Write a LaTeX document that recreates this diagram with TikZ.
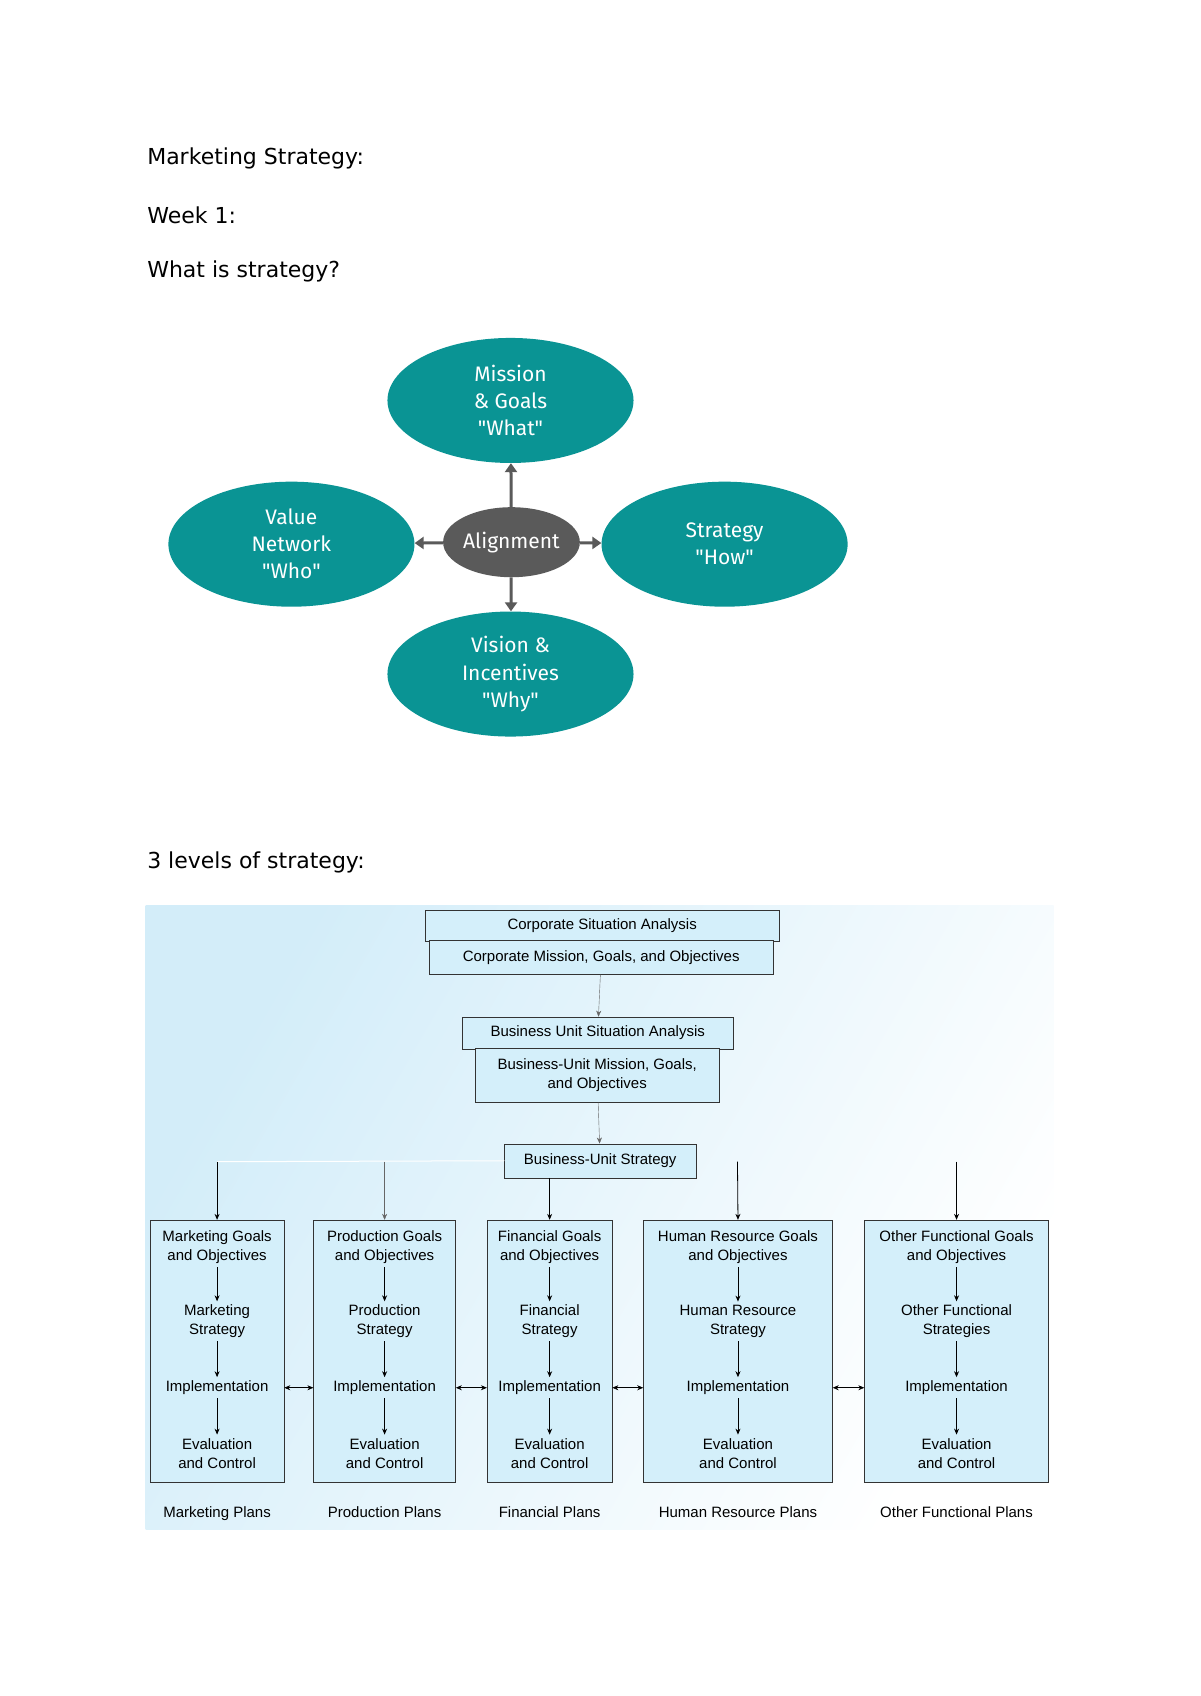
\documentclass[tikz,border=0pt]{standalone}
\usepackage{fontspec}
\setmainfont{DejaVu Sans}
\newfontfamily\ellf{Fira Sans}
\newfontfamily\boxf{Liberation Sans}
\usetikzlibrary{shapes.geometric,arrows.meta}
\definecolor{teal1}{HTML}{0A9494}
\definecolor{gray1}{HTML}{5A5A5A}
\definecolor{bfill}{HTML}{D4EFFA}
\definecolor{bgl}{HTML}{D3EDF9}
\begin{document}
\begin{tikzpicture}[x=0.991pt,y=-0.991pt,
  ell/.style={ellipse,fill=teal1,text=white,minimum width=246pt,minimum height=125pt,inner sep=0pt,align=center,font=\ellf\fontsize{21}{27}\selectfont},
  garr/.style={draw=gray1,line width=3pt,-{Triangle[length=9pt,width=12pt]}},
  bx/.style={draw=black!80,fill=bfill,font=\boxf\fontsize{15}{19}\selectfont,align=center,inner sep=0pt},
  it/.style={font=\boxf\fontsize{15}{19}\selectfont,align=center},
  ar/.style={-{Stealth[length=6pt,width=5pt]},line width=0.8pt},
  tar/.style={-{Stealth[length=6pt,width=5pt]},line width=0.4pt,draw=black!60},
  dar/.style={{Stealth[length=6pt,width=5pt]}-{Stealth[length=6pt,width=5pt]},line width=0.6pt},
  ttl/.style={anchor=west,font=\fontsize{22}{26}\selectfont}]
\useasboundingbox (0,0) rectangle (1211,1711);
\fill[white] (0,0) rectangle (1211,1711);
\node[ttl] (t1) at (145,160) {Marketing Strategy:};
\node[ttl] (t2) at (145,217) {Week 1:};
\node[ttl] (t3) at (145,274) {What is strategy?};
\node[ttl] (t4) at (145,870) {3 levels of strategy:};
% ellipses
\node[ell] (mis) at (515,404) {Mission\\\& Goals\\"What"};
\node[ell] (val) at (294,549) {Value\\Network\\"Who"};
\node[ell] (str) at (731,549) {Strategy\\"How"};
\node[ell] (vis) at (515,680) {Vision \&\\Incentives\\"Why"};
\node[ellipse,fill=gray1,text=white,minimum width=136pt,minimum height=70pt,inner sep=0pt,font=\ellf\fontsize{21}{26}\selectfont] (ali) at (516,547) {Alignment};
\draw[garr] (ali) -- (mis);
\draw[garr] (ali) -- (vis);
\draw[garr] (ali) -- (val);
\draw[garr] (ali) -- (str);
% background
\shade[left color=bgl,right color=white,shading angle=60] (147,913) rectangle (1063,1543);
% top boxes
\node[bx,minimum width=353pt,minimum height=31pt] (cs) at (607.5,933.5) {Corporate Situation Analysis};
\node[bx,minimum width=343pt,minimum height=34pt] (cm) at (606.5,966) {Corporate Mission, Goals, and Objectives};
\node[bx,minimum width=270pt,minimum height=32pt] (bs) at (603,1042) {Business Unit Situation Analysis};
\node[bx,minimum width=243pt,minimum height=54pt] (bm) at (602.5,1085) {Business-Unit Mission, Goals,\\and Objectives};
\node[bx,minimum width=191pt,minimum height=34pt] (bst) at (605.5,1171) {Business-Unit Strategy};
\draw[tar] (cm) -- (bs);
\draw[tar] (bm) -- (bst);
\draw[white,line width=1pt] (219,1172) -- (bst.west);
% columns
\foreach \n/\l/\r in {m/152/286,p/317/459,f/492/617,h/650/839,o/873/1057}{
  \node[bx,minimum width=\r-\l,minimum height=262pt] (box\n) at ({(\l+\r)/2},1363) {};
}
\foreach \n/\a/\b/\c/\e/\pl in {
 m/{Marketing Goals\\and Objectives}/{Marketing\\Strategy}/Implementation/{Evaluation\\and Control}/Marketing Plans,
 p/{Production Goals\\and Objectives}/{Production\\Strategy}/Implementation/{Evaluation\\and Control}/Production Plans,
 f/{Financial Goals\\and Objectives}/{Financial\\Strategy}/Implementation/{Evaluation\\and Control}/Financial Plans,
 h/{Human Resource Goals\\and Objectives}/{Human Resource\\Strategy}/Implementation/{Evaluation\\and Control}/Human Resource Plans,
 o/{Other Functional Goals\\and Objectives}/{Other Functional\\Strategies}/Implementation/{Evaluation\\and Control}/Other Functional Plans}{
  \node[it] (\n1) at (box\n.north |- 0,1258) {\a};
  \node[it] (\n2) at (box\n.north |- 0,1333) {\b};
  \node[it] (\n3) at (box\n.north |- 0,1400) {\c};
  \node[it] (\n4) at (box\n.north |- 0,1466) {\e};
  \node[it,anchor=base] (\n5) at (box\n.north |- 0,1531) {\pl};
  \draw[ar] (\n1) -- (\n2);
  \draw[ar] (\n2) -- (\n3);
  \draw[ar] (\n3) -- (\n4);
}
\coordinate (mt) at (219,1172);
\coordinate (pt) at (388,1172);
\coordinate (ht) at (744,1172);
\coordinate (ot) at (965,1172);
\draw[ar] (mt) -- (boxm.north);
\draw[tar] (pt) -- (boxp.north);
\draw[ar] (bst.south -| boxf.north) -- (boxf.north);
\draw[ar] (ht) -- (boxh.north);
\draw[ar] (ot) -- (boxo.north);
\draw[dar] (boxm.east |- 0,1400) -- (boxp.west |- 0,1400);
\draw[dar] (boxp.east |- 0,1400) -- (boxf.west |- 0,1400);
\draw[dar] (boxf.east |- 0,1400) -- (boxh.west |- 0,1400);
\draw[dar] (boxh.east |- 0,1400) -- (boxo.west |- 0,1400);
\end{tikzpicture}
\end{document}
